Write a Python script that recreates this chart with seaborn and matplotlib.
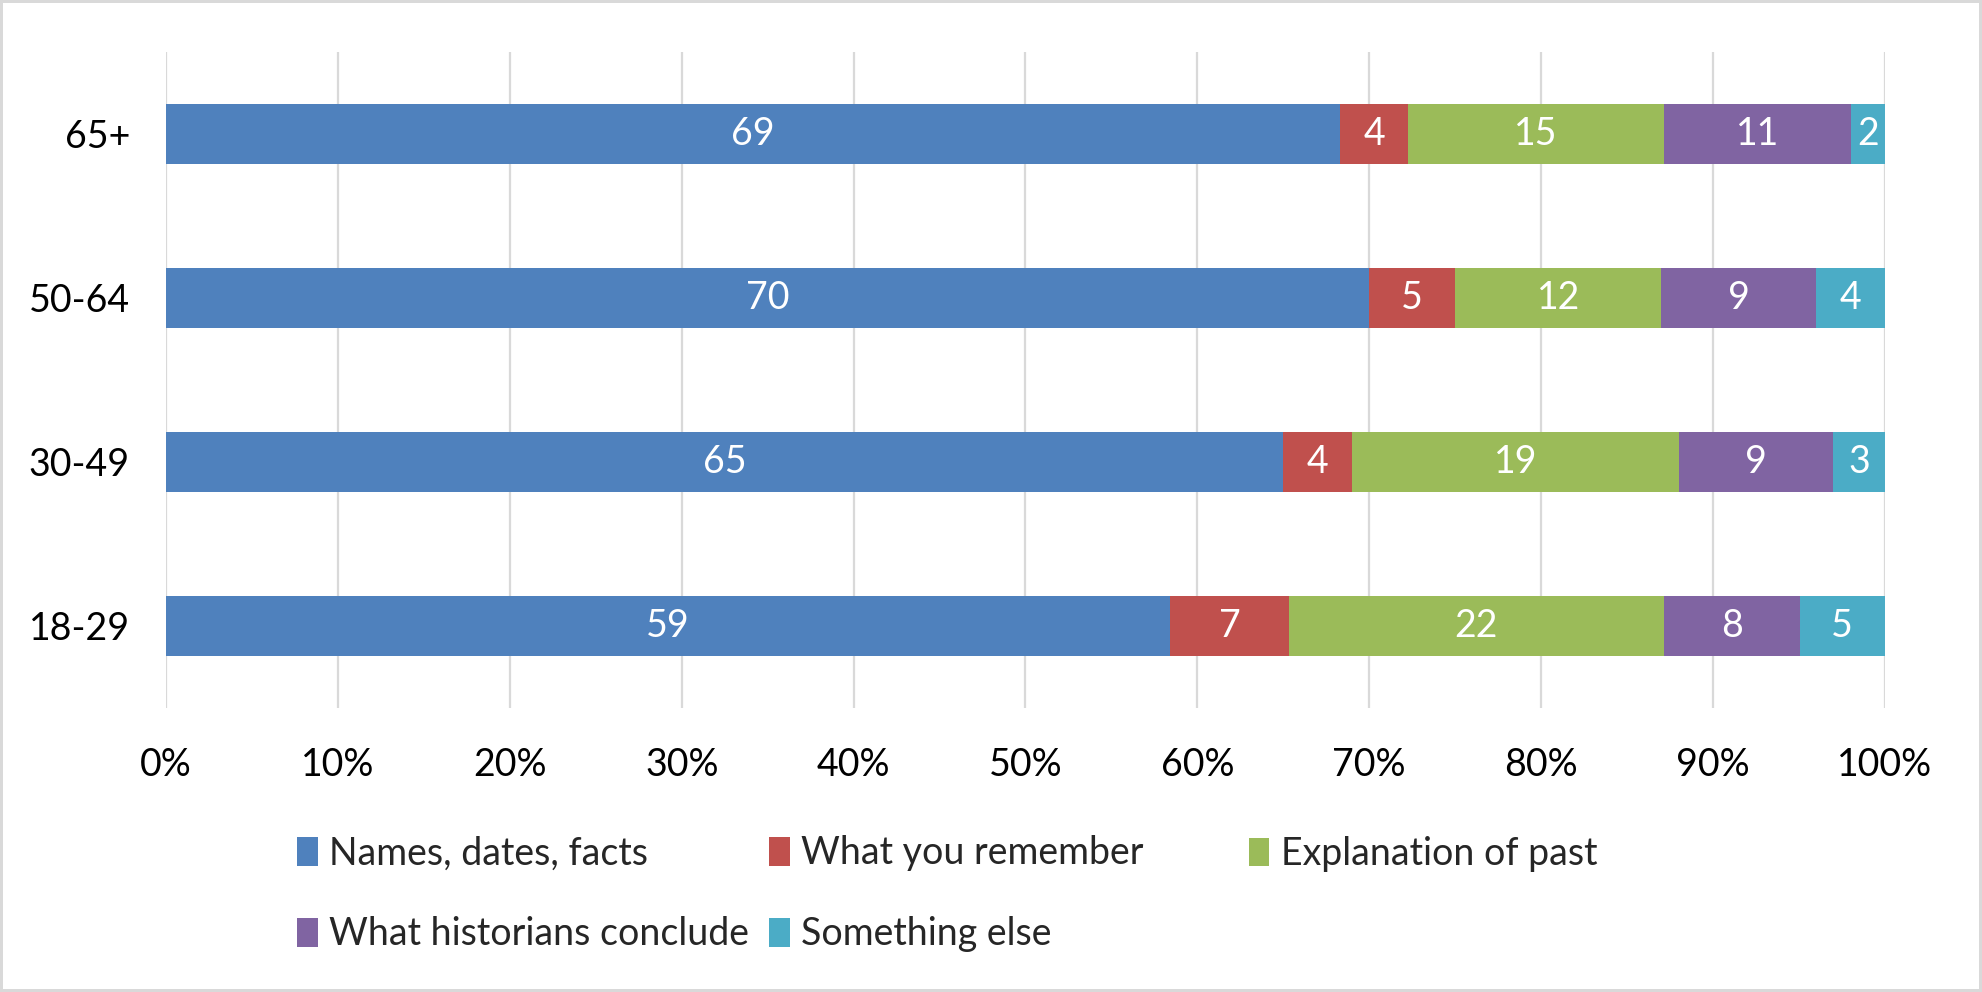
import matplotlib
matplotlib.use("Agg")
import matplotlib.pyplot as plt
import numpy as np
import pandas as pd
import seaborn as sns

# data (rows don't always sum to 100, Excel normalises to 100%)
groups = ["65+", "50-64", "30-49", "18-29"]
series = ["Names, dates, facts", "What you remember", "Explanation of past",
          "What historians conclude", "Something else"]
names_dates_facts = [69, 70, 65, 59]
what_you_remember = [4, 5, 4, 7]
explanation_of_past = [15, 12, 19, 22]
what_historians_conclude = [11, 9, 9, 8]
something_else = [2, 4, 3, 5]
colors = ["#4F81BD", "#C0504D", "#9BBB59", "#8064A2", "#4BACC6"]

vals = np.array([names_dates_facts, what_you_remember, explanation_of_past,
                 what_historians_conclude, something_else], dtype=float)
pct = vals / vals.sum(axis=0) * 100
cum = pct.cumsum(axis=0)

sns.set_theme(style="white")
plt.rcParams["font.family"] = ["Lato", "DejaVu Sans"]
fs = 27

fig = plt.figure(figsize=(19.82, 9.92), dpi=100)
fig.patch.set_edgecolor("#d9d9d9")
fig.patch.set_linewidth(3)
ax = fig.add_axes([0.0838, 0.2863, 0.951 - 0.0838, 0.9476 - 0.2863])

# draw cumulative bars from the longest down so each segment shows
for i in range(len(series) - 1, -1, -1):
    df = pd.DataFrame({"group": groups, "value": cum[i]})
    sns.barplot(data=df, x="value", y="group", order=groups, orient="h",
                color=colors[i], width=0.36, linewidth=0, saturation=1,
                ax=ax, label=series[i], zorder=2)

# segment labels
for i in range(len(series)):
    for j, g in enumerate(groups):
        center = cum[i, j] - pct[i, j] / 2
        ax.text(center, j, f"{int(vals[i, j])}", ha="center", va="center",
                color="white", fontsize=fs, zorder=3)

ax.set_xlim(0, 100)
ax.set_ylim(len(groups) - 0.5, -0.5)
ax.set_xticks(np.arange(0, 101, 10))
ax.set_xticklabels([f"{t}%" for t in range(0, 101, 10)])
ax.xaxis.grid(True, color="#d9d9d9", linewidth=1.6, zorder=0)
ax.set_axisbelow(True)
ax.tick_params(axis="x", length=0, pad=28, labelsize=fs, labelcolor="black")
ax.tick_params(axis="y", length=0, pad=26, labelsize=fs, labelcolor="black")
ax.set_xlabel("")
ax.set_ylabel("")
for s in ax.spines.values():
    s.set_visible(False)

# legend laid out row-wise like Excel: one small legend per column
handles, labels = ax.get_legend_handles_labels()
if ax.get_legend() is not None:
    ax.get_legend().remove()
lookup = dict(zip(labels, handles))
legend_cols = [([series[0], series[3]], 0.150, 0.099),
               ([series[1], series[4]], 0.388, 0.099),
               ([series[2]], 0.630, 0.139)]
for names, x, y in legend_cols:
    leg = fig.legend([lookup[n] for n in names], names, loc="center left",
                     bbox_to_anchor=(x, y), frameon=False, fontsize=fs,
                     handlelength=0.55, handleheight=0.8, handletextpad=0.3,
                     labelspacing=1.2, borderaxespad=0, borderpad=0)

fig.savefig("out.png", dpi=100, edgecolor=fig.get_edgecolor())
